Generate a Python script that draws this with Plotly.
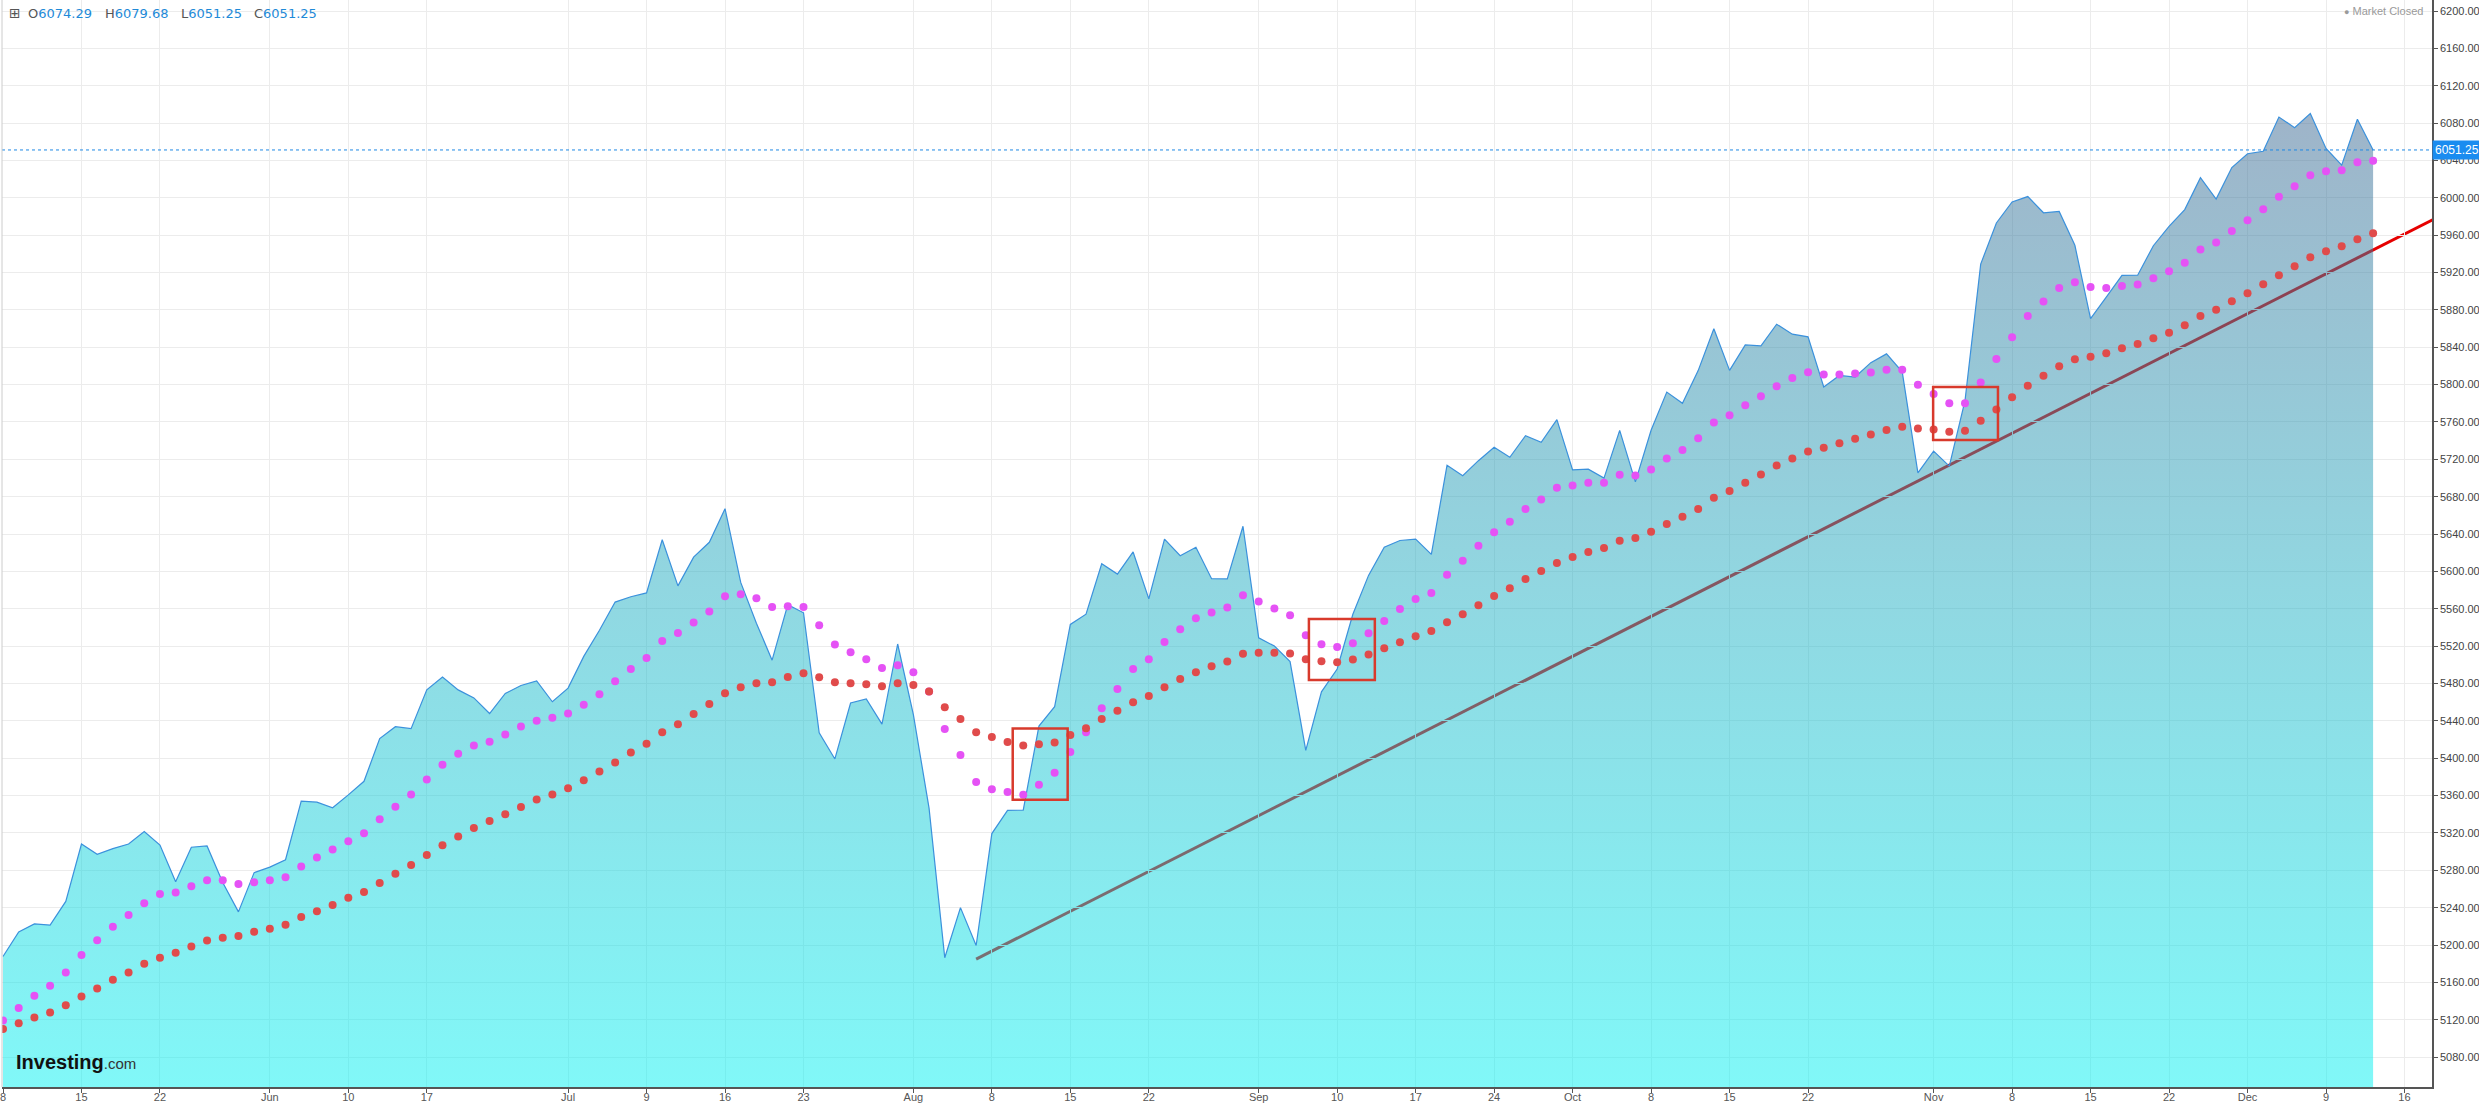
import plotly.graph_objects as go

# ---------------- data ----------------
may = [8, 9, 10, 13, 14, 15, 16, 17, 20, 21, 22, 23, 24, 28, 29, 30, 31]
jun = [3, 4, 5, 6, 7, 10, 11, 12, 13, 14, 17, 18, 20, 21, 24, 25, 26, 27, 28]
jul = [1, 2, 3, 5, 8, 9, 10, 11, 12, 15, 16, 17, 18, 19, 22, 23, 24, 25, 26, 29, 30, 31]
aug = [1, 2, 5, 6, 7, 8, 9, 12, 13, 14, 15, 16, 19, 20, 21, 22, 23, 26, 27, 28, 29, 30]
sep = [3, 4, 5, 6, 9, 10, 11, 12, 13, 16, 17, 18, 19, 20, 23, 24, 25, 26, 27, 30]
octo = [1, 2, 3, 4, 7, 8, 9, 10, 11, 14, 15, 16, 17, 18, 21, 22, 23, 24, 25, 28, 29, 30, 31]
nov = [1, 4, 5, 6, 7, 8, 11, 12, 13, 14, 15, 18, 19, 20, 21, 22, 25, 26, 27, 29]
dec = [2, 3, 4, 5, 6, 9, 10, 11, 12]
future_days = ["2024-12-13", "2024-12-16", "2024-12-17", "2024-12-18"]

dates = []
for m, days in [(5, may), (6, jun), (7, jul), (8, aug), (9, sep), (10, octo), (11, nov), (12, dec)]:
    dates += [f"2024-{m:02d}-{d:02d}" for d in days]

close = [
    5187.67, 5214.08, 5222.68, 5221.42, 5246.68, 5308.15, 5297.10, 5303.27, 5308.13, 5321.41,
    5307.01, 5267.84, 5304.72, 5306.04, 5266.95, 5235.48, 5277.51,
    5283.40, 5291.34, 5354.03, 5352.96, 5346.99, 5360.79, 5375.32, 5421.03, 5433.74, 5431.60,
    5473.23, 5487.03, 5473.17, 5464.62, 5447.87, 5469.30, 5477.90, 5482.87, 5460.48,
    5475.09, 5509.01, 5537.02, 5567.19, 5572.85, 5576.98, 5633.91, 5584.54, 5615.35, 5631.22,
    5667.20, 5588.27, 5544.59, 5505.00, 5564.41, 5555.74, 5427.13, 5399.22, 5459.10, 5463.54,
    5436.44, 5522.30,
    5446.68, 5346.56, 5186.33, 5240.03, 5199.50, 5319.31, 5344.16, 5344.39, 5434.43, 5455.21,
    5543.22, 5554.25, 5608.25, 5597.12, 5620.85, 5570.64, 5634.61, 5616.84, 5625.80, 5592.18,
    5591.96, 5648.40,
    5528.93, 5520.07, 5503.41, 5408.42, 5471.05, 5495.52, 5554.13, 5595.76, 5626.02, 5633.09,
    5634.58, 5618.26, 5713.64, 5702.55, 5718.57, 5732.93, 5722.26, 5745.37, 5738.17, 5762.48,
    5708.75, 5709.54, 5699.94, 5751.07, 5695.94, 5751.13, 5792.04, 5780.05, 5815.03, 5859.85,
    5815.26, 5842.47, 5841.47, 5864.67, 5853.98, 5851.20, 5797.42, 5809.86, 5808.12, 5823.52,
    5832.92, 5813.67, 5705.45,
    5728.80, 5712.69, 5782.76, 5929.04, 5973.10, 5995.54, 6001.35, 5983.99, 5985.38, 5949.17,
    5870.62, 5893.62, 5916.98, 5917.11, 5948.71, 5969.34, 5987.37, 6021.63, 5998.74, 6032.38,
    6047.15, 6049.88, 6086.49, 6075.11, 6090.27, 6052.85, 6034.91, 6084.19, 6051.25,
]

ma_fast = [  # magenta dotted average
    5119.1, 5132.6, 5145.6, 5156.3, 5170.5, 5189.3, 5205.2, 5219.5, 5232.2, 5244.8,
    5254.6, 5256.3, 5262.8, 5269.3, 5269.3, 5265.3, 5267.3, 5269.3, 5272.6, 5284.0,
    5293.8, 5302.4, 5311.0, 5319.6, 5334.7, 5348.1, 5361.2, 5377.1, 5393.0, 5404.9,
    5413.5, 5417.6, 5425.3, 5433.9, 5440.0, 5443.3, 5447.8, 5457.2, 5468.6, 5482.5,
    5495.6,
    5507.3, 5525.6, 5534.0, 5545.4, 5557.2, 5573.3, 5575.5, 5571.4, 5561.8, 5562.6,
    5561.8, 5542.4, 5521.8, 5513.4, 5506.1, 5496.6, 5499.6, 5492.0, 5471.4, 5431.4,
    5403.5, 5374.6, 5366.9, 5363.9, 5360.8, 5371.5, 5384.5, 5406.6, 5427.9, 5453.5,
    5474.1, 5495.5, 5506.1, 5524.4, 5538.2, 5550.0, 5556.1, 5561.4, 5574.4, 5567.9,
    5560.3, 5553.0,
    5531.8, 5521.9, 5519.2, 5523.0, 5533.7, 5546.8, 5559.9, 5570.6, 5576.8, 5596.4,
    5611.3, 5627.4, 5642.0, 5653.1, 5666.9, 5676.9, 5689.6, 5691.9, 5695.0, 5695.0,
    5703.4, 5702.6, 5709.1, 5721.0, 5729.9, 5742.5, 5759.4, 5767.1, 5777.8, 5787.5,
    5798.2, 5807.0, 5813.2, 5810.8, 5810.8,
    5812.0, 5813.0, 5816.0, 5816.0, 5800.0, 5790.0, 5780.0, 5780.0, 5802.4, 5827.4,
    5850.6, 5873.4, 5889.0, 5903.4, 5909.5, 5904.5, 5903.4, 5905.6, 5907.3, 5914.0,
    5921.3, 5930.5, 5944.8, 5952.3, 5964.4, 5975.9, 5987.7, 6001.2, 6012.3, 6024.1,
    6028.4, 6029.4, 6038.0, 6039.7,
]

ma_slow = [  # red dotted average
    5110.1, 5116.2, 5122.4, 5127.7, 5135.4, 5144.8, 5153.4, 5162.8, 5170.5, 5179.9,
    5186.4, 5191.8, 5198.3, 5204.8, 5207.7, 5209.7, 5214.2, 5217.5, 5221.6, 5230.1,
    5236.3, 5242.8, 5250.6, 5256.7, 5266.5, 5276.3, 5285.7, 5296.3, 5306.9, 5316.3,
    5325.3, 5332.7, 5340.0, 5347.8, 5355.9, 5361.2, 5367.8, 5376.3, 5385.7, 5395.5,
    5406.2,
    5415.4, 5427.9, 5436.3, 5447.4, 5458.1, 5469.5, 5476.0, 5480.2, 5481.3, 5487.1,
    5490.9, 5486.7, 5481.3, 5480.2, 5479.1, 5477.1, 5480.2, 5478.3, 5471.4, 5454.6,
    5442.1, 5427.9, 5422.6, 5417.3, 5413.5, 5415.0, 5416.9, 5424.9, 5432.1, 5442.1,
    5450.8, 5460.0, 5466.5, 5476.0, 5484.8, 5492.0, 5498.5, 5503.5, 5511.9, 5513.0,
    5513.0, 5512.2,
    5506.1, 5503.9, 5502.7, 5505.8, 5511.1, 5517.7, 5524.2, 5530.7, 5536.1, 5545.6,
    5554.1, 5563.7, 5573.7, 5582.1, 5591.8, 5600.5, 5609.0, 5615.5, 5620.9, 5625.0,
    5632.8, 5635.9, 5642.4, 5650.9, 5658.5, 5666.9, 5678.8, 5686.1, 5695.0, 5703.7,
    5713.4, 5721.0, 5728.4, 5732.5, 5737.2,
    5742.0, 5746.5, 5751.5, 5755.0, 5753.0, 5752.0, 5749.5, 5750.7, 5761.4, 5773.5,
    5786.4, 5798.9, 5809.6, 5819.6, 5827.1, 5829.9, 5833.5, 5838.9, 5843.5, 5849.6,
    5855.6, 5863.5, 5873.4, 5880.2, 5889.2, 5897.8, 5907.4, 5917.0, 5926.7, 5936.3,
    5942.7, 5948.1, 5955.6, 5962.0,
]

tick_dates = ["2024-05-08", "2024-05-15", "2024-05-22", "2024-06-03", "2024-06-10", "2024-06-17",
              "2024-07-01", "2024-07-09", "2024-07-16", "2024-07-23", "2024-08-01", "2024-08-08",
              "2024-08-15", "2024-08-22", "2024-09-03", "2024-09-10", "2024-09-17", "2024-09-24",
              "2024-10-01", "2024-10-08", "2024-10-15", "2024-10-22", "2024-11-01", "2024-11-08",
              "2024-11-15", "2024-11-22", "2024-12-02", "2024-12-09", "2024-12-16"]
tick_labels = ["8", "15", "22", "Jun", "10", "17", "Jul", "9", "16", "23", "Aug", "8", "15", "22",
               "Sep", "10", "17", "24", "Oct", "8", "15", "22", "Nov", "8", "15", "22", "Dec", "9", "16"]
y_ticks = [5080 + 40 * k for k in range(29)]

ohlc_labels = ["O", "H", "L", "C"]
ohlc_values = [6074.29, 6079.68, 6051.25, 6051.25]
last_price = 6051.25

trend_start = ("2024-08-07", 5185.0)
trend_end = ("2024-12-18", 5978.3)

# ---------------- layout geometry ----------------
W, H = 2479, 1103
ML, MR, MT, MB = 2, 47, 0, 16
PW, PH = W - ML - MR, H - MT - MB
DAY_PX = 15.696


def px(x):
    return (x - ML) / PW


def py(y):
    return 1 - (y - MT) / PH


fig = go.Figure()

fig.add_trace(go.Scatter(
    x=dates, y=close, mode="lines", fill="tozeroy",
    line=dict(color="#3b91dc", width=1.2),
    fillgradient=dict(type="vertical",
                      colorscale=[[0, "rgba(2,241,241,0.5)"], [0.5, "rgba(34,176,196,0.5)"],
                                  [1, "rgba(62,104,146,0.5)"]],
                      start=5048, stop=6095),
    hoverinfo="skip", showlegend=False,
))
fig.add_trace(go.Scatter(
    x=dates, y=ma_fast, mode="markers",
    marker=dict(color="#e552f5", size=8, line=dict(width=0)),
    showlegend=False, hoverinfo="skip",
))
fig.add_trace(go.Scatter(
    x=dates, y=ma_slow, mode="markers",
    marker=dict(color="#e04b4b", size=8, line=dict(width=0)),
    showlegend=False, hoverinfo="skip",
))

shapes = [
    # support trend line (drawn below the translucent area)
    dict(type="line", xref="x", yref="y", x0=trend_start[0], y0=trend_start[1],
         x1=trend_end[0], y1=trend_end[1], line=dict(color="#e60000", width=3), layer="below"),
    # last price dotted line
    dict(type="line", xref="paper", yref="y", x0=0, x1=1, y0=last_price, y1=last_price,
         line=dict(color="#1e88e5", width=1, dash="dot"), layer="above"),
    # left border
    dict(type="line", xref="paper", yref="paper", x0=0, x1=0, y0=0, y1=1,
         line=dict(color="#cccccc", width=1)),
]
boxes = [(64.33, 67.83, 5355.5, 5431.8), (83.2, 87.4, 5483.8, 5549.1), (122.97, 127.1, 5740.7, 5797.4)]
for x0, x1, y0, y1 in boxes:
    shapes.append(dict(type="rect", xref="x", yref="y", x0=x0, x1=x1, y0=y0, y1=y1,
                       line=dict(color="#d83a2c", width=2.5), layer="above"))

annotations = [
    dict(xref="paper", yref="y", x=1, y=last_price, xanchor="left", yanchor="middle",
         text=f"{last_price:.2f}", showarrow=False, bgcolor="#1a8cf0", borderpad=2,
         font=dict(family="Liberation Sans, Arial", size=12, color="white")),
    dict(xref="paper", yref="paper", x=px(2425), y=py(11), xanchor="right", yanchor="middle",
         text="<span style='font-size:9px'>●</span> Market Closed", showarrow=False,
         font=dict(family="Liberation Sans, Arial", size=11, color="#9a9a9a")),
    dict(xref="paper", yref="paper", x=px(7), y=py(13), xanchor="left", yanchor="middle",
         text="⊞", showarrow=False, font=dict(family="DejaVu Sans", size=14, color="#555555")),
    dict(xref="paper", yref="paper", x=px(14), y=py(1062), xanchor="left", yanchor="middle",
         text="<b>Investing</b><span style='font-size:15px;color:#333'>.com</span>", showarrow=False,
         font=dict(family="Liberation Sans, Arial", size=20, color="#111111")),
]
ohlc_x = [26, 103, 179, 252]
for lab, val, xx in zip(ohlc_labels, ohlc_values, ohlc_x):
    annotations.append(dict(
        xref="paper", yref="paper", x=px(xx), y=py(13), xanchor="left", yanchor="middle",
        text=f"<span style='color:#555555'>{lab}</span>{val:.2f}", showarrow=False,
        font=dict(family="DejaVu Sans", size=13, color="#1e8ad8")))

x0_range = -(3 - ML) / DAY_PX
fig.update_layout(
    width=W, height=H,
    margin=dict(l=ML, r=MR, t=MT, b=MB, pad=0),
    paper_bgcolor="white", plot_bgcolor="white",
    showlegend=False,
    shapes=shapes, annotations=annotations,
    xaxis=dict(
        type="category", categoryorder="array", categoryarray=dates + future_days,
        range=[x0_range, x0_range + PW / DAY_PX],
        tickmode="array", tickvals=tick_dates, ticktext=tick_labels,
        showgrid=True, gridcolor="#ececec", gridwidth=1,
        showline=True, linecolor="#555555", linewidth=1.5,
        ticks="outside", ticklen=4, tickcolor="#555555", ticklabelstandoff=-5,
        tickfont=dict(family="Liberation Sans, Arial", size=11, color="#555555"),
        zeroline=False, automargin=False, fixedrange=True,
    ),
    yaxis=dict(
        side="right", range=[5048, 6211.8],
        tickmode="array", tickvals=y_ticks, ticktext=[f"{v:.2f}" for v in y_ticks],
        showgrid=True, gridcolor="#ececec", gridwidth=1,
        showline=True, linecolor="#555555", linewidth=1.5,
        ticks="outside", ticklen=4, tickcolor="#555555",
        tickfont=dict(family="Liberation Sans, Arial", size=11, color="#444444"),
        zeroline=False, automargin=False, fixedrange=True,
    ),
)

fig.write_html(
    "out.html",
    config={"displayModeBar": False},
    post_script="document.body.style.margin='0';document.body.style.padding='0';"
                "document.body.style.overflow='hidden';",
)
